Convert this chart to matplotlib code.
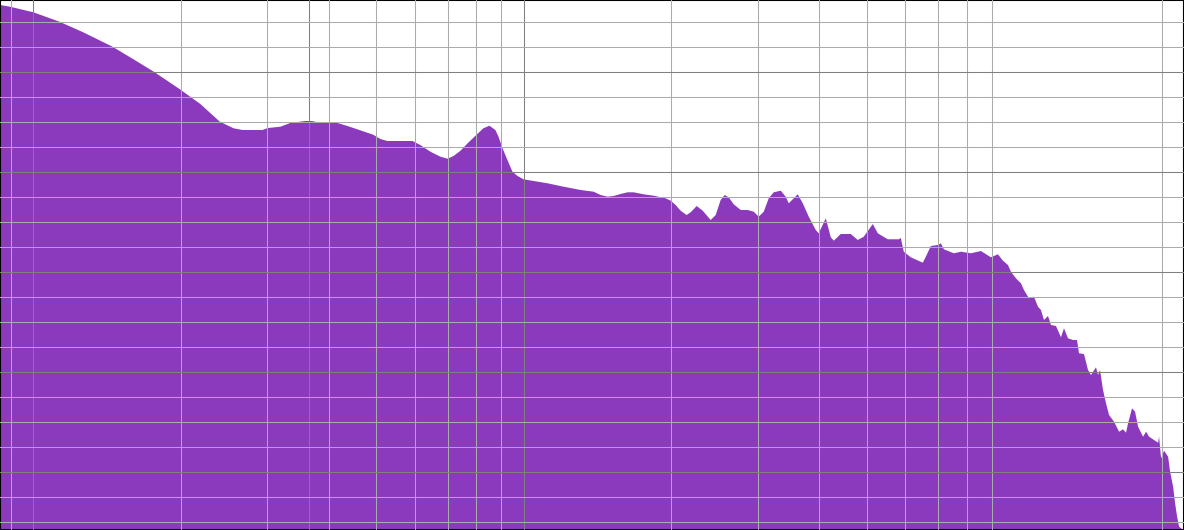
import numpy as np
from matplotlib import pyplot as plt
from matplotlib.ticker import FixedLocator, NullFormatter

# spectrum: frequency (Hz) and level (dB)
freq_hz = [85.5, 89.6, 100, 113, 126, 145, 160, 176, 199, 219, 240, 256, 267, 293,
           301, 319, 334, 358, 370, 385, 417, 437, 464, 493, 510, 527, 593, 615,
           645, 676, 699, 719, 743, 768, 804, 827, 851, 875, 888, 905, 926, 948,
           971, 999, 1047, 1118, 1205, 1306, 1388, 1434, 1482, 1524, 1575, 1628,
           1675, 1755, 1840, 1946, 1993, 2040, 2088, 2148, 2189, 2252, 2316, 2405,
           2462, 2520, 2568, 2617, 2679, 2769, 2861, 2943, 3013, 3085, 3158, 3233,
           3341, 3420, 3469, 3619, 3705, 3811, 3938, 3994, 4128, 4226, 4286, 4429,
           4642, 4797, 4934, 5148, 5270, 5523, 5816, 5871, 5954, 6153, 6510, 6603,
           6761, 6987, 7086, 7187, 7533, 7785, 8159, 8551, 8962, 9263, 9483, 9708,
           9846, 10080, 10320, 10467, 10715, 10970, 11178, 11337, 11498, 11716,
           11883, 12165, 12454, 12631, 12871, 13177, 13427, 13554, 13875, 14139,
           14339, 14680, 14819, 14959, 15171, 15387, 15606, 15977, 16356, 16667,
           16904, 17064, 17388, 17635, 17885, 18310, 18570, 18834, 19281, 19647,
           19739, 19928, 20211, 20594, 20789, 21084, 21282, 21483, 21685, 22097]

level_db = [13.46, 13.12, 12.0, 10.12, 8.06, 5.12, 2.6, 0.12, -3.4, -6.34, -9.88,
            -11.2, -11.54, -11.54, -11.14, -10.88, -10.14, -9.74, -9.74, -10.14,
            -10.14, -10.74, -11.6, -12.48, -13.34, -13.74, -13.74, -14.54, -15.88,
            -16.88, -17.28, -16.74, -15.68, -14.2, -12.34, -11.2, -10.68, -11.54,
            -12.88, -15.2, -17.54, -19.88, -20.74, -21.4, -21.74, -22.2, -22.88,
            -23.54, -23.88, -24.54, -24.88, -24.74, -24.34, -24.0, -24.0, -24.4,
            -24.68, -25.2, -25.68, -26.54, -27.68, -28.54, -28.0, -26.74, -27.68,
            -29.54, -28.54, -25.54, -24.54, -25.0, -26.4, -27.54, -27.54, -27.88,
            -28.88, -27.88, -25.2, -24.0, -23.68, -24.88, -26.2, -24.4, -26.2,
            -28.88, -31.54, -32.2, -29.2, -33.0, -33.68, -32.34, -32.34, -33.54,
            -32.88, -30.34, -32.2, -33.4, -33.4, -33.14, -35.88, -37.0, -38.08,
            -36.88, -34.74, -34.54, -34.2, -35.4, -36.2, -35.88, -36.2, -35.74,
            -37.0, -36.4, -37.68, -38.54, -39.88, -41.2, -42.2, -43.54, -45.2,
            -44.88, -46.88, -47.54, -49.54, -48.74, -50.54, -50.74, -53.0, -51.2,
            -53.2, -53.54, -53.54, -56.2, -56.34, -59.54, -60.54, -59.0, -60.54,
            -59.54, -63.54, -66.2, -68.54, -69.88, -71.88, -71.4, -72.08, -70.2,
            -67.2, -67.88, -70.88, -72.88, -71.88, -72.88, -73.54, -74.08, -72.88,
            -77.2, -75.68, -76.88, -79.88, -82.88, -86.2, -88.88, -90.88, -91.54]

# grid positions
major_x = [100, 364, 1000]
minor_x = [90, 200, 300, 400, 500, 600, 700, 800, 900,
           2000, 3000, 4000, 5000, 6000, 7000, 8000, 9000, 20000]
major_y = [0, -20, -40, -60, -80]
minor_y = [10, 5, -5, -10, -15, -25, -30, -35, -45, -50, -55,
           -65, -70, -75, -85, -90]

fig = plt.figure(figsize=(11.84, 5.30), dpi=100)
ax = fig.add_axes([0, 0, 1, 1])

ax.fill_between(freq_hz, level_db, -100, color="#8b3abd", linewidth=0, zorder=1)

ax.set_xscale("log")
ax.set_xlim(85.5, 22190)
ax.set_ylim(-91.54, 14.46)

ax.xaxis.set_major_locator(FixedLocator(major_x))
ax.xaxis.set_minor_locator(FixedLocator(minor_x))
ax.yaxis.set_major_locator(FixedLocator(major_y))
ax.yaxis.set_minor_locator(FixedLocator(minor_y))
ax.xaxis.set_major_formatter(NullFormatter())
ax.xaxis.set_minor_formatter(NullFormatter())
ax.yaxis.set_major_formatter(NullFormatter())
ax.yaxis.set_minor_formatter(NullFormatter())
ax.tick_params(which="both", length=0)

ax.set_axisbelow(False)
ax.grid(which="major", color="#808080", linewidth=0.75)
ax.grid(which="minor", color="#ababab", linewidth=0.75)

for side in ax.spines.values():
    side.set_color("black")
    side.set_linewidth(1.5)

fig.savefig("out.png", dpi=100)
